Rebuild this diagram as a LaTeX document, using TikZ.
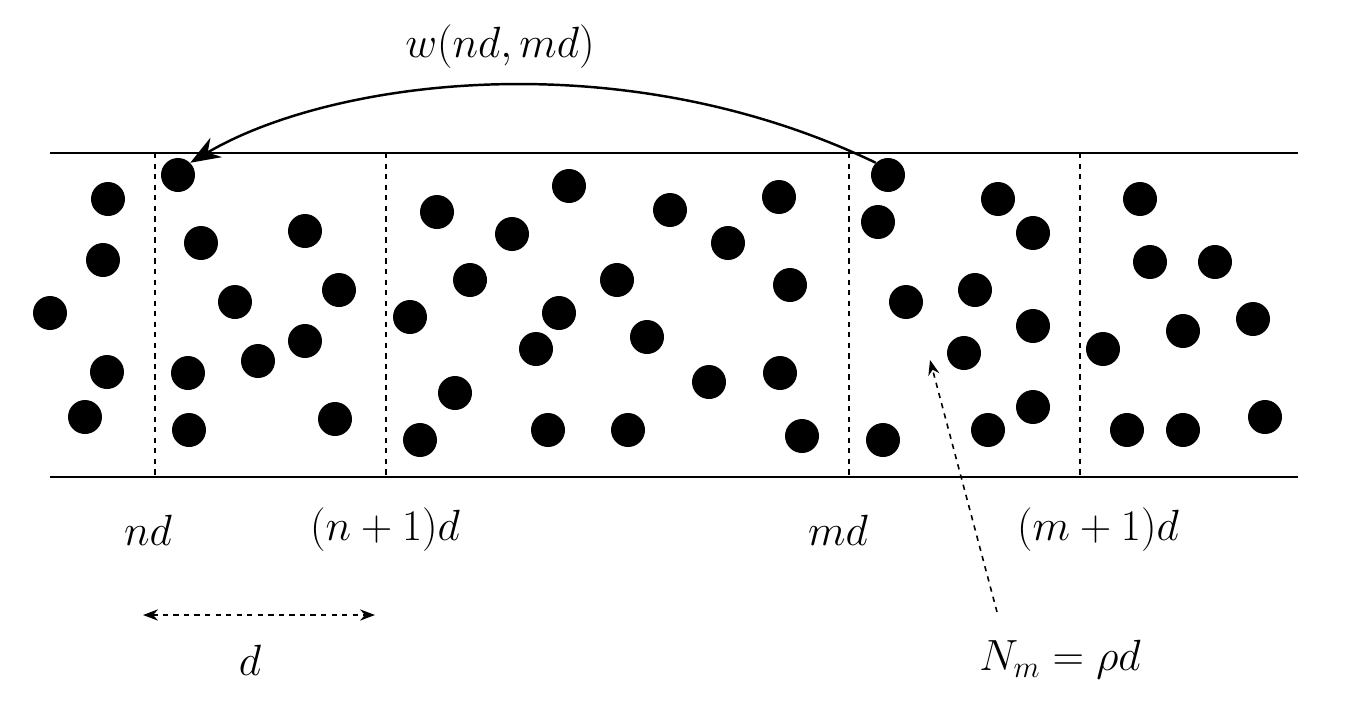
\documentclass[tikz,border=0pt]{standalone}
\usepackage{amsmath}
\usepackage{tikz}
\usetikzlibrary{arrows.meta}

\tikzset{
	particle/.style={circle, fill=black, inner sep=0pt, minimum size=0.68cm},
	cellwall/.style={dashed, line width=1.1pt},
	lbl/.style={font=\fontsize{24}{28}\selectfont},
}

\begin{document}
\begin{tikzpicture}[x=0.02cm, y=-0.02cm, >=Stealth]
		\useasboundingbox (0,0) rectangle (1362,724);

		% channel
		\coordinate (tl) at (50,153);
		\coordinate (tr) at (1298,153);
		\coordinate (bl) at (50,477);
		\coordinate (br) at (1298,477);
		\draw[line width=1.5pt] (tl) -- (tr);
		\draw[line width=1.5pt] (bl) -- (br);

		% cell boundaries
		\foreach \x in {155,386,849,1080}
			\draw[cellwall] (\x,153) -- (\x,477);

		% particles
		\foreach \x/\y [count=\i] in {108/199,103/260,50/313,107/372,85/417,
			178/175,201/243,235/302,188/373,189/430,258/361,305/231,339/290,305/341,335/419,
			437/212,512/234,470/280,410/317,569/186,559/313,536/349,455/393,420/440,548/430,
			617/280,647/337,628/430,670/210,728/243,779/197,790/285,709/382,780/373,802/436,
			888/175,878/222,906/302,883/440,998/199,1033/233,975/290,1033/326,964/353,988/430,1033/407,
			1140/199,1150/262,1215/262,1253/319,1183/331,1103/349,1127/430,1183/430,1265/417}
			\node[particle] (p\i) at (\x,\y) {};

		% hop
		\node[lbl] (w) at (500,47) {$w(nd,md)$};
		\draw[-{Stealth[length=0.6cm, width=0.45cm]}, line width=1.4pt]
			(p36.north west) .. controls (620,40) and (330,80) .. (p6.north east);

		% positions
		\node[lbl] (nd) at (148,530) {$nd$};
		\node[lbl] (n1d) at (385,530) {$(n+1)d$};
		\node[lbl] (md) at (838,530) {$md$};
		\node[lbl] (m1d) at (1098,530) {$(m+1)d$};

		% spacing
		\coordinate (dl) at (143,615);
		\coordinate (dr) at (375,615);
		\draw[{Stealth[length=0.3cm]}-{Stealth[length=0.3cm]}, dashed, line width=1.1pt] (dl) -- (dr);
		\node[lbl] (d) at (250,660) {$d$};

		% density
		\node[lbl] (N) at (1060,660) {$N_m = \rho d$};
		\coordinate (Ntip) at (930,360);
		\draw[-{Stealth[length=0.3cm]}, dashed, line width=0.9pt] (997,612) -- (Ntip);
	\end{tikzpicture}
\end{document}
